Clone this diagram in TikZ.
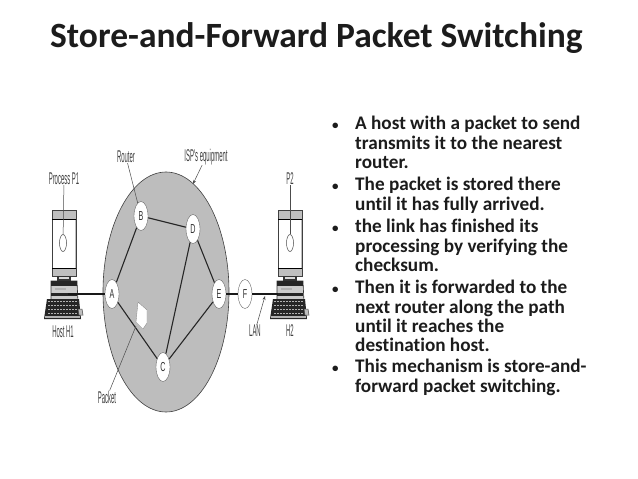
\documentclass[tikz,border=0pt]{standalone}
\usepackage{fontspec}
\usepackage{graphicx}
\setmainfont{Carlito}[Ligatures=NoCommon]
\newfontfamily\diagfont{Liberation Sans}
\usetikzlibrary{shapes.geometric,arrows.meta}
\newcommand{\narrowlbl}[1]{\scalebox{.35}[1]{\diagfont\fontsize{17}{17}\selectfont #1}}
\newcommand{\narrowrtr}[1]{\scalebox{.55}[1]{\diagfont\fontsize{13}{13}\selectfont #1}}
\definecolor{blobgray}{HTML}{BDBDBD}
\definecolor{inkc}{HTML}{1C1C1C}
\tikzset{
 x=1pt,y=-1pt,
 rtr/.style={ellipse,draw=black!60,fill=white,line width=.4pt,minimum width=14pt,minimum height=29pt,inner sep=0pt,text=black!80},
 lnk/.style={line width=1.1pt,black!85},
 heavy/.style={line width=2pt,black!90},
 lbl/.style={inner sep=0pt,text=black!75},
 lead/.style={line width=.5pt,black!70},
 bul/.style={anchor=north west,align=left,inner sep=0pt,font=\bfseries\fontsize{19.2}{18.7}\selectfont,text=inkc},
 dotm/.style={anchor=north west,inner sep=0pt,font=\bfseries\fontsize{13}{18.7}\selectfont,text=inkc},
 pc/.pic={
  \fill[black!25] (-12,-33) rectangle (12,33);
  \draw[black!75,line width=.5pt] (-12,-33) rectangle (12,33);
  \fill[white] (-11,-24) rectangle (11,25);
  \draw[black,line width=.9pt] (-12,-24) -- (12,-24);
  \draw[black,line width=.9pt] (-12,25) -- (12,25);
  \fill[black!80] (-7,33) rectangle (7,38);
  \fill[black!15] (-5,34) rectangle (5,36);
  \draw[fill=black!20,draw=black!80,line width=.6pt] (-13,38) -- (13,38) -- (14,59) -- (-13,59) -- cycle;
  \fill[black!85] (-13,38) rectangle (13,43);
  \fill[black!85] (-13,50) rectangle (13,53);
  \fill[white!70!black] (-9,45) rectangle (2,47);
  \fill[black!85] (-17,56) -- (15,56) -- (17,76) -- (-20,76) -- cycle;
  \foreach \r in {58,62,66,70} \draw[white!70!black,line width=.7pt,dash pattern=on 2pt off 1pt] (-16,\r) -- (14,\r);
  \fill[black!30] (-19,73) rectangle (16,74.5);
  \draw[black!70,fill=black!25,line width=.5pt] (14,66) -- (18,66) -- (19,72) -- (15,72) -- cycle;
 }
}
\begin{document}
\begin{tikzpicture}
\useasboundingbox (0,0) rectangle (638,479);
\fill[white] (0,0) rectangle (638,479);
\node[anchor=west,inner sep=0pt,font=\bfseries\fontsize{35.5}{38}\selectfont,text=inkc] (title) at (50,38) {Store-and-Forward Packet Switching};

% bullets
\node[dotm] (d1) at (332,115.9) {\strut•};
\node[bul] (t1) at (355,115.9) {\strut A host with a packet to send\\transmits it to the nearest\\router.};
\node[dotm] (d2) at (332,176.9) {\strut•};
\node[bul] (t2) at (355,176.9) {\strut The packet is stored there\\until it has fully arrived.};
\node[dotm] (d3) at (332,218.9) {\strut•};
\node[bul] (t3) at (355,218.9) {\strut the link has finished its\\processing by verifying the\\checksum.};
\node[dotm] (d4) at (332,279.9) {\strut•};
\node[bul] (t4) at (355,279.9) {\strut Then it is forwarded to the\\next router along the path\\until it reaches the\\destination host.};
\node[dotm] (d5) at (332,358.9) {\strut•};
\node[bul] (t5) at (355,358.9) {\strut This mechanism is store-and-\\forward packet switching.};

% network cloud
\node[ellipse,draw=black!75,fill=blobgray,line width=.6pt,minimum width=126pt,minimum height=240pt,inner sep=0pt] (cloud) at (166,292) {};

% computers
\pic at (64,243) {pc};
\pic at (290,243) {pc};
\coordinate (h1) at (68,294);
\coordinate (h2) at (278,294);

% routers
\node[rtr] (A) at (112,294) {\narrowrtr{A}};
\node[rtr] (B) at (141,216) {\narrowrtr{B}};
\node[rtr] (D) at (193,229) {\narrowrtr{D}};
\node[rtr] (E) at (219,294) {\narrowrtr{E}};
\node[rtr] (F) at (245,294) {\narrowrtr{F}};
\node[rtr] (C) at (163,367) {\narrowrtr{C}};

% links
\draw[lnk] (A) -- (B);
\draw[lnk] (B) -- (D);
\draw[lnk] (D) -- (E);
\draw[lnk] (D) -- (C);
\draw[lnk] (E) -- (C);
\draw[lnk] (A) -- (C);
\draw[heavy] (h1) -- (A);
\draw[heavy] (E) -- (F);
\draw[heavy] (F) -- (h2);

% packet
\fill[white,draw=black!50,line width=.3pt] (138,302) -- (147,310) -- (147,323) -- (143,329) -- (136,322) -- cycle;

% labels
\node[lbl] (lp1) at (64,179) {\narrowlbl{Process P1}};
\node[lbl] (lp2) at (290,179) {\narrowlbl{P2}};
\node[lbl] (lr) at (126,157) {\narrowlbl{Router}};
\node[lbl] (li) at (206,157) {\narrowlbl{ISP's equipment}};
\node[lbl] (lh1) at (63,332) {\narrowlbl{Host H1}};
\node[lbl] (lh2) at (290,331) {\narrowlbl{H2}};
\node[lbl] (ll) at (255,331) {\narrowlbl{LAN}};
\node[lbl] (lk) at (107,397) {\narrowlbl{Packet}};

% processes and leaders
\node[ellipse,draw=black!70,fill=white,line width=.5pt,minimum width=7pt,minimum height=17pt,inner sep=0pt] (p1) at (63,243) {};
\node[ellipse,draw=black!70,fill=white,line width=.5pt,minimum width=7pt,minimum height=17pt,inner sep=0pt] (p2) at (290,243) {};
\draw[lead] (lp1) -- (p1);
\draw[lead] (lp2) -- (p2);
\draw[lead] (lr) -- (B);
\coordinate (ispEdge) at (193,184);
\draw[lead,-{Stealth[length=4pt,width=3pt]}] (li) -- (ispEdge);
\coordinate (lanEnd) at (265,296);
\draw[lead,-{Stealth[length=4pt,width=3pt]}] (ll) -- (lanEnd);
\coordinate (pktEnd) at (136,326);
\draw[lead] (lk) -- (pktEnd);
\end{tikzpicture}
\end{document}
